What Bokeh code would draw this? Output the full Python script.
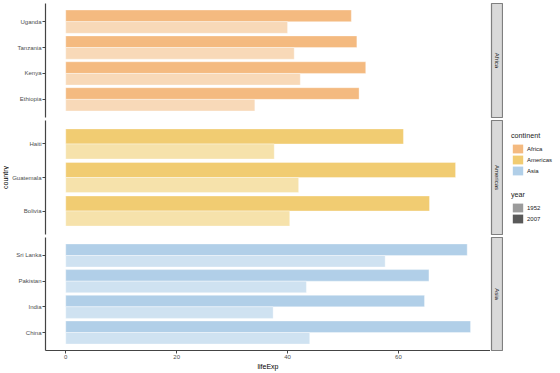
from math import pi
from bokeh.plotting import figure
from bokeh.models import (ColumnDataSource, FactorRange, Range1d, FixedTicker,
                          Legend, LegendItem)
from bokeh.layouts import row, column
from bokeh.transform import dodge
from bokeh.core.properties import value
from bokeh.embed import file_html
from bokeh.resources import INLINE

# ---------------- data ----------------
continents = ["Africa", "Americas", "Asia"]
years = ["1952", "2007"]

africa_countries = ["Ethiopia", "Kenya", "Tanzania", "Uganda"]
africa_1952 = [34.1, 42.3, 41.2, 40.0]
africa_2007 = [52.9, 54.1, 52.5, 51.5]

americas_countries = ["Bolivia", "Guatemala", "Haiti"]
americas_1952 = [40.4, 42.0, 37.6]
americas_2007 = [65.6, 70.3, 60.9]

asia_countries = ["China", "India", "Pakistan", "Sri Lanka"]
asia_1952 = [44.0, 37.4, 43.4, 57.6]
asia_2007 = [73.0, 64.7, 65.5, 72.4]

x_ticks = [0, 20, 40, 60]
x_title = "lifeExp"
y_title = "country"

# ---------------- style ----------------
FONT = value("Liberation Sans")
fill_2007 = {"Africa": "#F4BA80", "Americas": "#F1CC72", "Asia": "#B1CFE8"}
fill_1952 = {"Africa": "#F8D9B8", "Americas": "#F6E2AB", "Asia": "#CFE2F1"}
year_key = {"1952": "#9B9B9B", "2007": "#595959"}
AXIS_COL = "#444444"
TICK_TXT = "#4D4D4D"

facets = {
    "Africa": (africa_countries, africa_1952, africa_2007),
    "Americas": (americas_countries, americas_1952, americas_2007),
    "Asia": (asia_countries, asia_1952, asia_2007),
}

LABEL_W = 9
LEFT = 36
PANEL_W = LEFT + 445
STRIP_W = 13
LEG_W = 56
heights = {"Africa": (3, 114, 3), "Americas": (0, 114, 3), "Asia": (0, 114, 21)}
TOTAL_H = sum(sum(v) for v in heights.values())

rows = []
for cont in continents:
    countries, v1952, v2007 = facets[cont]
    top, frame_h, bottom = heights[cont]
    H = top + frame_h + bottom
    is_last = cont == "Asia"
    src = ColumnDataSource(dict(country=countries, y1952=v1952, y2007=v2007))
    yr = FactorRange(*countries, range_padding=0.2, range_padding_units="absolute")
    p = figure(width=PANEL_W, height=H, y_range=yr, x_range=Range1d(-3.65, 76.6),
               output_backend="svg", toolbar_location=None,
               x_axis_location="below" if is_last else None)
    p.min_border = 0
    p.min_border_left = LEFT
    p.min_border_top = top
    p.min_border_bottom = bottom
    p.min_border_right = 0
    p.outline_line_color = None
    p.background_fill_color = "white"
    p.border_fill_color = "white"
    p.xgrid.visible = False
    p.ygrid.visible = False

    p.hbar(y=dodge("country", 0.225, range=p.y_range), right="y2007", left=0,
           height=0.45, source=src, fill_color=fill_2007[cont],
           line_color="white", line_alpha=0.6, line_width=0.6)
    p.hbar(y=dodge("country", -0.225, range=p.y_range), right="y1952", left=0,
           height=0.45, source=src, fill_color=fill_1952[cont],
           line_color="white", line_alpha=0.6, line_width=0.6)

    ya = p.yaxis[0]
    ya.axis_line_color = AXIS_COL
    ya.axis_line_width = 1.2
    ya.major_tick_line_color = AXIS_COL
    ya.major_tick_out = 3
    ya.major_tick_in = 0
    ya.minor_tick_line_color = None
    ya.major_label_text_font_size = "6px"
    ya.major_label_text_color = TICK_TXT
    ya.major_label_text_font = "Liberation Sans"
    ya.major_label_standoff = 1

    if is_last:
        xa = p.xaxis[0]
        xa.ticker = FixedTicker(ticks=x_ticks)
        xa.axis_line_color = AXIS_COL
        xa.axis_line_width = 1.2
        xa.major_tick_line_color = AXIS_COL
        xa.major_tick_out = 3
        xa.major_tick_in = 0
        xa.minor_tick_line_color = None
        xa.major_label_text_font_size = "6px"
        xa.major_label_text_color = TICK_TXT
        xa.major_label_text_font = "Liberation Sans"
        xa.major_label_standoff = 1
        xa.axis_label = x_title
        xa.axis_label_text_font_size = "7px"
        xa.axis_label_text_font = "Liberation Sans"
        xa.axis_label_text_font_style = "normal"
        xa.axis_label_text_color = "#000000"
        xa.axis_label_standoff = 1

    # facet strip
    s = figure(width=STRIP_W, height=H, x_range=Range1d(0, 1), y_range=Range1d(0, 1),
               output_backend="svg", toolbar_location=None,
               x_axis_location=None, y_axis_location=None)
    s.min_border = 0
    s.min_border_left = 1
    s.min_border_right = 1
    s.min_border_top = top
    s.min_border_bottom = bottom
    s.background_fill_color = "#D9D9D9"
    s.border_fill_color = "white"
    s.outline_line_color = "#7F7F7F"
    s.outline_line_width = 1.2
    s.xgrid.visible = False
    s.ygrid.visible = False
    s.text(x=[0.5], y=[0.5], text=[cont], angle=-pi / 2, text_align="center",
           text_baseline="middle", text_font_size="6px", text_font=FONT,
           text_color="#1A1A1A")
    rows.append(row(p, s))

# y-axis title figure
ly = figure(width=LABEL_W, height=TOTAL_H, x_range=Range1d(0, 1), y_range=Range1d(0, 1),
            output_backend="svg", toolbar_location=None,
            x_axis_location=None, y_axis_location=None)
ly.min_border = 0
ly.min_border_top = heights["Africa"][0]
ly.min_border_bottom = heights["Asia"][2]
ly.outline_line_color = None
ly.xgrid.visible = False
ly.ygrid.visible = False
ly.text(x=[0.55], y=[0.5], text=[y_title], angle=pi / 2, text_align="center",
        text_baseline="middle", text_font_size="7px", text_font=FONT,
        text_color="#000000")

# legend figure
pl = figure(width=LEG_W, height=TOTAL_H, x_range=Range1d(0, 1), y_range=Range1d(0, 1),
            output_backend="svg", toolbar_location=None,
            x_axis_location=None, y_axis_location=None)
pl.min_border = 0
pl.outline_line_color = None
pl.xgrid.visible = False
pl.ygrid.visible = False

nan = float("nan")
cont_items = []
for cont in continents:
    r = pl.hbar(y=[nan], right=[nan], height=0.5, fill_color=fill_2007[cont], line_color=None)
    cont_items.append(LegendItem(label=value(cont), renderers=[r]))
year_items = []
for yv in years:
    r = pl.hbar(y=[nan], right=[nan], height=0.5, fill_color=year_key[yv], line_color=None)
    year_items.append(LegendItem(label=value(yv), renderers=[r]))


def style_legend(lg):
    lg.title_text_font_size = "7.2px"
    lg.title_text_font = "Liberation Sans"
    lg.title_text_font_style = "normal"
    lg.title_text_color = "#1A1A1A"
    lg.title_standoff = 3
    lg.label_text_font_size = "6px"
    lg.label_text_font = "Liberation Sans"
    lg.label_text_color = "#1A1A1A"
    lg.label_standoff = 3
    lg.label_height = 11
    lg.label_width = 10
    lg.glyph_height = 11
    lg.glyph_width = 13
    lg.spacing = 0
    lg.padding = 0
    lg.margin = 0
    lg.border_line_color = None
    lg.background_fill_alpha = 0


leg1 = Legend(items=cont_items, title="continent", location=(8, 175))
leg2 = Legend(items=year_items, title="year", location=(8, 127))
style_legend(leg1)
style_legend(leg2)
pl.add_layout(leg1)
pl.add_layout(leg2)

layout = row(ly, column(*rows), pl)

open("out.html", "w").write(file_html(layout, INLINE))
